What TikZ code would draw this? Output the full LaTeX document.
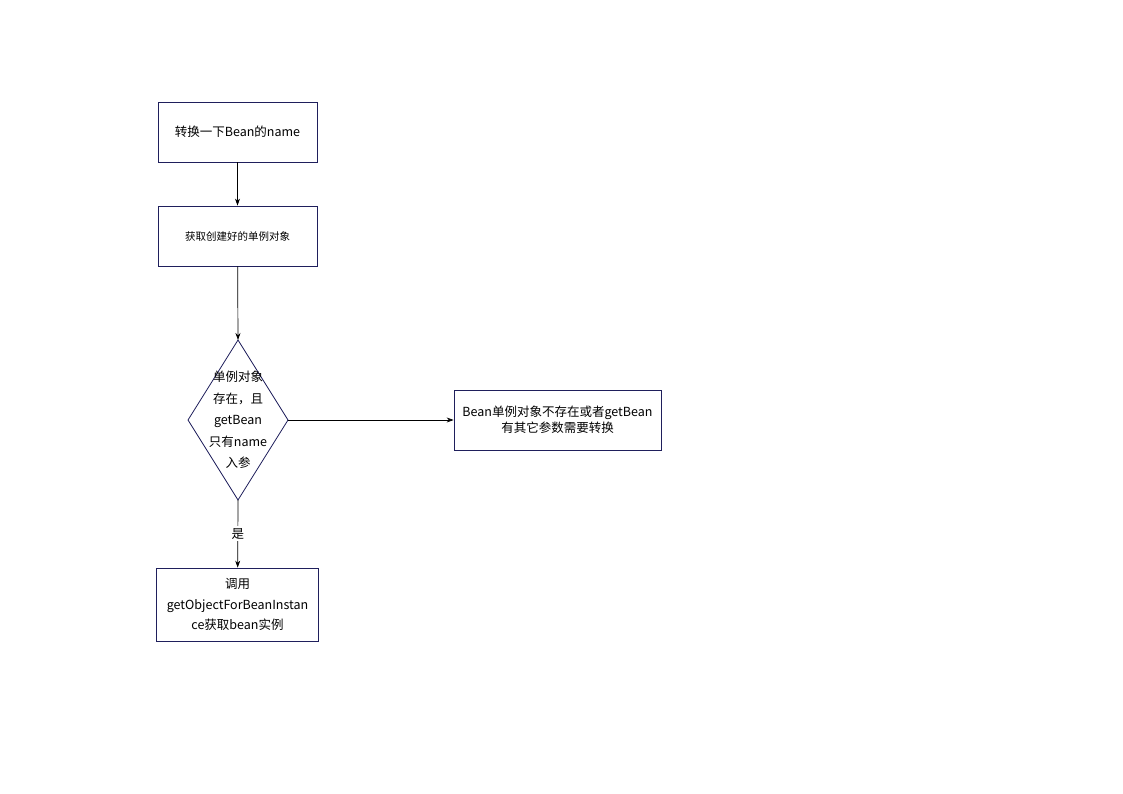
\documentclass[tikz,border=0pt]{standalone}
\usepackage{fontspec}
\setmainfont{Noto Sans CJK SC}
\usetikzlibrary{shapes.geometric,arrows.meta}
\definecolor{navy}{HTML}{1F1F5C}
\begin{document}
\begin{tikzpicture}[x=1pt,y=-1pt,
  box/.style={draw=navy,line width=0.8pt,minimum width=159pt,minimum height=60pt,align=center,font=\fontsize{12.5}{16}\selectfont},
  arr/.style={-{Stealth[length=7pt,width=5pt]},line width=0.7pt,black}]
\useasboundingbox (0,0) rectangle (1123,794);
\node[box] (b1) at (237.5,132) {转换一下Bean的name};
\node[box,font=\fontsize{10.5}{14}\selectfont] (b2) at (237.5,236) {获取创建好的单例对象};
\draw[draw=navy,line width=0.8pt] (238,340) -- (288,420) -- (238,500) -- (188,420) -- cycle;
\coordinate (dT) at (238,340);
\coordinate (dR) at (288,420);
\coordinate (dB) at (238,500);
\node[align=center,font=\fontsize{12.5}{21.5}\selectfont] (d) at (238,420) {单例对象\\存在，且\\getBean\\只有name\\入参};
\node[box,minimum width=207pt] (b3) at (557.5,420) {Bean单例对象不存在或者getBean\\有其它参数需要转换};
\node[box,minimum height=73pt,text width=155pt,font=\fontsize{12.5}{20.5}\selectfont] (b4) at (237.5,604.5) {调用\\getObjectForBeanInstan\\ce获取bean实例};
\draw[arr] (b1) -- (b2);
\draw[arr] (b2) -- (dT);
\draw[arr] (dR) -- (b3);
\draw[arr] (dB) -- node[fill=white,inner sep=2pt,font=\fontsize{12.5}{16}\selectfont] (yes) {是} (b4);
\end{tikzpicture}
\end{document}
